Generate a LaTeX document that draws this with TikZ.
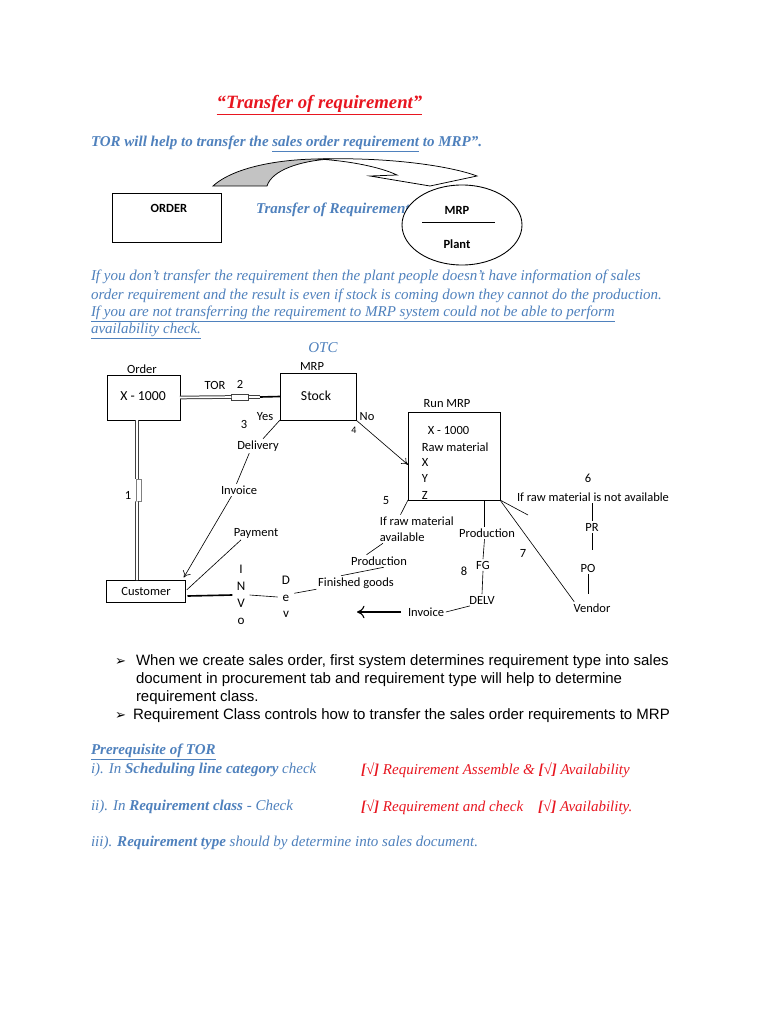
\documentclass[tikz,border=0pt]{standalone}
\usepackage{fontspec}
\setmainfont{Liberation Serif}
\newfontfamily\calibri{Carlito}
\newfontfamily\arialf{Liberation Sans}
\newfontfamily\dejavu{DejaVu Sans}
\usetikzlibrary{shapes.geometric,arrows.meta,calc}
\definecolor{tblue}{RGB}{79,129,189}
\definecolor{tred}{RGB}{232,22,32}
\definecolor{agray}{RGB}{195,195,195}
\begin{document}
\begin{tikzpicture}[x=0.8pt,y=-0.8pt,
  every node/.style={inner sep=0pt, outer sep=0pt},
  bluetxt/.style={text=tblue, font=\fontsize{12}{14}\selectfont\itshape, anchor=west},
  bluebold/.style={text=tblue, font=\fontsize{12}{14}\selectfont\bfseries\itshape, anchor=west},
  redtxt/.style={text=tred, font=\fontsize{12}{14}\selectfont\itshape, anchor=west},
  dl/.style={font=\calibri\fontsize{10}{12}\selectfont, inner sep=1.5pt},
  dlb/.style={font=\calibri\fontsize{11}{13}\selectfont, inner sep=1.5pt},
  dbox/.style={draw, line width=0.7pt},
  ln/.style={line width=0.5pt},
  dblline/.style={draw=black!75, double=white, double distance=1.3pt, line width=0.8pt},
  arialtxt/.style={font=\arialf\fontsize{12}{14}\selectfont, anchor=west},
  bul/.style={font=\dejavu\fontsize{10.5}{12}\selectfont, anchor=west},
  chk/.style={font=\bfseries\itshape}
]
\fill[white] (0,0) rectangle (768,1024);
\useasboundingbox (0,0) rectangle (768,1024);

% ---------- title ----------
\node[text=tred, font=\fontsize{15}{17}\selectfont\bfseries\itshape] (title) at (319.5,105) {\underline{“Transfer of requirement”}};
\node[bluebold] (tor1) at (91,144) {TOR will help to transfer the \underline{sales order requirement} to MRP”.};

% ---------- top diagram ----------
\node[dbox, minimum width=87.2pt, minimum height=39.2pt] (orderbox) at (166.5,217.5) {};
\node[font=\calibri\bfseries\fontsize{10}{12}\selectfont] (ordertxt) at (169,208) {ORDER};
\node[bluebold] (torlbl) at (256,210) {Transfer of Requirement};
\node[ellipse, draw, fill=white, line width=0.7pt, minimum width=96pt, minimum height=64pt] (mrpell) at (462,225) {};
\node[font=\calibri\bfseries\fontsize{10}{12}\selectfont] (mrptxt) at (457,210) {MRP};
\node[font=\calibri\bfseries\fontsize{10}{12}\selectfont] (planttxt) at (457,244) {Plant};
\draw[line width=0.6pt] ([xshift=-32pt,yshift=2.4pt]mrpell.center) -- ([xshift=26.4pt,yshift=2.4pt]mrpell.center);

% curved arrow (gray underside + white band with head)
\filldraw[fill=agray, draw=black, line width=0.6pt]
  (213,186) .. controls (235,166) and (285,158) .. (330,159)
  .. controls (300,161) and (272,170) .. (267,186) -- cycle;
\filldraw[fill=white, draw=black, line width=0.6pt]
  (318,159) .. controls (390,157) and (450,166) .. (477,176)
  -- (430,186) -- (370,176) -- (397,175)
  .. controls (380,167) and (350,161) .. (318,159) -- cycle;

% ---------- paragraph ----------
\node[bluetxt] (p1) at (91,277) {If you don’t transfer the requirement then the plant people doesn’t have information of sales};
\node[bluetxt] (p2) at (91,296) {order requirement and the result is even if stock is coming down they cannot do the production.};
\node[bluetxt] (p3) at (91,314) {\underline{If you are not transferring the requirement to MRP system could not be able to perform}};
\node[bluetxt] (p4) at (91,331) {\underline{availability check.}};
\node[text=tblue, font=\fontsize{12}{14}\selectfont\itshape] (otc) at (323,348) {OTC};

% ---------- OTC diagram ----------
\node[dl] (orderlbl) at (142,369) {Order};
\node[dbox, minimum width=58.4pt, minimum height=36pt] (xk) at (143.5,397.5) {};
\node[dlb] (xktxt) at (143,396) {X - 1000};
\node[dl] (mrplbl) at (312,366) {MRP};
\node[dbox, minimum width=60.8pt, minimum height=37.6pt] (stock) at (318,396.5) {};
\node[dlb] (stocktxt) at (316,396) {Stock};
\node[dl] (runlbl) at (447,404) {Run MRP};
\node[dbox, minimum width=73.6pt, minimum height=70.4pt] (rmrp) at (454,456) {};
\node[dl, anchor=west] (rx) at (426,430) {X - 1000};
\node[dl, anchor=west] (rraw) at (420,447) {Raw material};
\node[dl, anchor=west] (rxx) at (420,462) {X};
\node[dl, anchor=west] (ryy) at (420,478) {Y};
\node[dl, anchor=west] (rzz) at (420,495) {Z};
\node[dbox, minimum width=63.2pt, minimum height=17.6pt] (cust) at (145.5,591) {};
\node[dl] (custtxt) at (146,591) {Customer};

\node[dl] (torl) at (215,385) {TOR};
\node[dl] (n2) at (240,384) {2};
\node[dl] (yes) at (265,417) {Yes};
\node[dl] (n3) at (244,424) {3};
\node[dl] (no) at (367,417) {No};
\node[dl, font=\calibri\fontsize{8}{10}\selectfont] (n4) at (354,430) {4};
\node[dl] (deliv) at (258,446) {Delivery};
\node[dl] (inv1) at (239,490) {Invoice};
\node[dl] (pay) at (256,533) {Payment};
\node[dl] (n1) at (128,495) {1};
\node[dlb, align=center, font=\calibri\fontsize{10.5}{13.6}\selectfont] (invo) at (241,595) {I\\N\\V\\o};
\node[dlb, align=center, font=\calibri\fontsize{10.5}{13}\selectfont] (dev) at (286,597) {D\\e\\v};
\node[dl] (fin) at (356,583) {Finished goods};
\node[dl] (prod1) at (379,561) {Production};
\node[dl, align=left, anchor=west, font=\calibri\fontsize{10}{12.8}\selectfont] (ifraw) at (378,529) {If raw material\\available};
\node[dl] (n5) at (386,501) {5};
\node[dl] (prod2) at (487,533) {Production};
\node[dl] (fg) at (483,565) {FG};
\node[dl] (n8) at (464,571) {8};
\node[dl] (delv) at (482,600) {DELV};
\node[dl] (inv2) at (426,612) {Invoice};
\node[dl] (n6) at (588,478) {6};
\node[dl] (notav) at (593,497) {If raw material is not available};
\node[dl] (pr) at (592,527) {PR};
\node[dl] (po) at (588,568) {PO};
\node[dl] (vend) at (592,608) {Vendor};
\node[dl] (n7) at (523,553) {7};

% connectors
\node[draw=black!75, fill=white, minimum width=14pt, minimum height=4.5pt, line width=0.5pt] (torbox) at (240,397) {};
\coordinate (torj) at (260,397);
\draw[dblline] (xk.east) -- (torbox.west);
\draw[dblline] (torbox.east) -- (torj);
\draw[line width=1.3pt] (torj) -- (stock.west);

\node[draw=black!50, fill=white, minimum width=4pt, minimum height=18pt, line width=0.4pt] (onebox) at (139,490) {};
\draw[dblline] ([xshift=-5.2pt]xk.south) -- ([xshift=-1.6pt]onebox.north);
\draw[dblline] ([xshift=-1.6pt]onebox.south) -- ([xshift=-6.8pt]cust.north);

\draw[ln] (stock.south west) -- ([xshift=4pt]deliv.north);
\draw[ln] ([xshift=-7pt]deliv.south) -- ([xshift=-2pt]inv1.north);
\draw[ln, -{To[length=5pt,width=7pt]}] ([xshift=-6pt]inv1.south) -- ([xshift=-1pt,yshift=2pt]cust.north east);
\draw[ln] ([xshift=-12pt]pay.south) -- ([xshift=1.5pt,yshift=1pt]cust.east);
\draw[line width=1.3pt] ([xshift=2pt,yshift=-4pt]cust.east) -- ([xshift=-2pt]invo.west);
\draw[ln] ([xshift=2pt]invo.east) -- ([xshift=-2pt]dev.west);
\draw[ln] ([xshift=2pt,yshift=3pt]dev.east) -- ([yshift=-5pt]fin.west);
\draw[ln] ([xshift=-12pt]fin.north) -- ([xshift=-20pt]prod1.north east |- prod1.south);
\draw[ln] ([xshift=-10pt]prod1.north) -- ([xshift=4pt]ifraw.south west);
\draw[ln] (rmrp.south west) -- ([xshift=18pt]ifraw.north west);
\draw[ln, -{To[length=5pt,width=6pt]}] (stock.south east) -- ([yshift=-7pt]rmrp.west);
\draw[ln] ([xshift=-2pt]prod2.north |- rmrp.south) -- ([xshift=-2pt]prod2.north);
\draw[ln] ([xshift=-2pt]prod2.south) -- (fg.north);
\draw[ln] (fg.south) -- (delv.north);
\draw[ln] ([xshift=2pt]delv.south west) -- (inv2.east);
\coordinate (arrend) at (357,612);
\draw[line width=0.9pt, -{To[length=6pt,width=10pt]}] ([xshift=-4pt]inv2.west) -- (arrend);
\coordinate (stub) at (528,515);
\draw[ln] (rmrp.south east) -- (stub);
\draw[ln] (rmrp.south east) -- ([xshift=2pt]vend.north west);
\draw[ln] (pr.north |- notav.south) -- (pr.north);
\draw[ln] (pr.south) -- ([yshift=10pt]pr.south |- po.north);
\draw[ln] (po.south) -- ([yshift=6pt]po.south |- vend.north);

% ---------- bullets ----------
\node[bul] (b1) at (115,662) {➢};
\node[arialtxt] (t1) at (136,662) {When we create sales order, first system determines requirement type into sales};
\node[arialtxt] (t2) at (136,680) {document in procurement tab and requirement type will help to determine};
\node[arialtxt] (t3) at (136,698) {requirement class.};
\node[bul] (b2) at (115,716) {➢};
\node[arialtxt] (t4) at (133,716) {Requirement Class controls how to transfer the sales order requirements to MRP};

% ---------- prerequisites ----------
\node[bluebold] (pre) at (91,752) {\underline{Prerequisite of TOR}};
\node[bluetxt] (pi) at (91,770) {i). In \textbf{Scheduling line category} check};
\node[redtxt] (ri) at (361,770) {\textbf{[√]} Requirement Assemble \& \textbf{[√]} Availability};
\node[bluetxt] (pii) at (91,807) {ii). In \textbf{Requirement class} - Check};
\node[redtxt] (rii) at (361,807) {\textbf{[√]} Requirement and check\hspace{12pt}\textbf{[√]} Availability.};
\node[bluetxt] (piii) at (91,843) {iii). \textbf{Requirement type} should by determine into sales document.};
\end{tikzpicture}
\end{document}
